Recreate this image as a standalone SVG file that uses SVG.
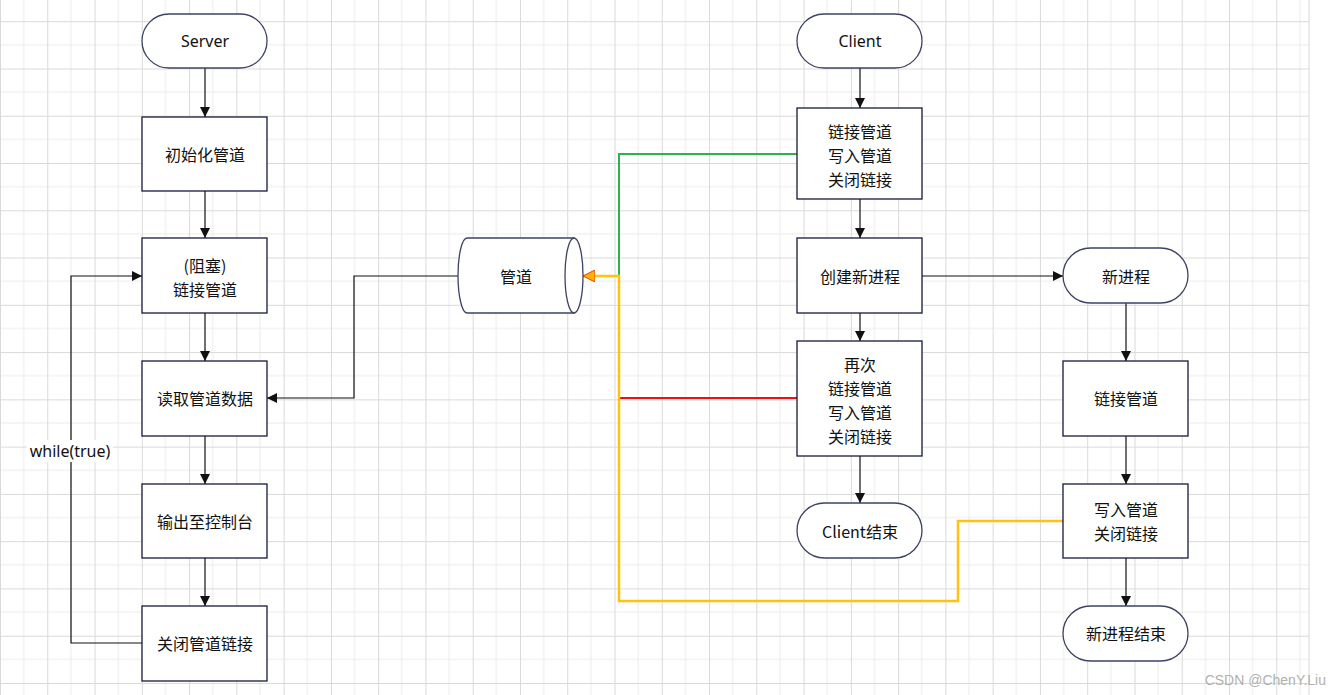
<svg xmlns="http://www.w3.org/2000/svg" width="1343" height="695" viewBox="0 0 1343 695">
<defs>
<pattern id="grid" x="0" y="21.2" width="47.27" height="47.27" patternUnits="userSpaceOnUse">
<path d="M23.635 0V47.27M0 23.635H47.27" stroke="#ececec" stroke-width="1" fill="none"/>
<path d="M0.5 0V47.27M0 0.5H47.27" stroke="#d9d9d9" stroke-width="1" fill="none"/>
</pattern>
<marker id="arr" viewBox="0 0 10 10" refX="10" refY="5" markerWidth="10" markerHeight="10" markerUnits="userSpaceOnUse" orient="auto">
<path d="M0 0L10 5L0 10Z" fill="#111"/>
</marker>
<marker id="arrY" viewBox="0 0 10 10" refX="10" refY="5" markerWidth="12" markerHeight="12" markerUnits="userSpaceOnUse" orient="auto">
<path d="M0 0L10 5L0 10Z" fill="#ffb300" stroke="#e53b00" stroke-width="0.8"/>
</marker>
</defs>
<style>
.node rect,.node path,.node ellipse{fill:#fff;stroke:#15193d;stroke-width:1.3}
.pill rect{stroke:#3e4264}
.t{font-family:"Noto Sans CJK SC","Noto Sans",sans-serif;font-size:16px;fill:#111;text-anchor:middle;dominant-baseline:central}
.l{font-family:"Noto Sans","Liberation Sans",sans-serif}
.e{fill:none;stroke:#111;stroke-width:1.2}
</style>
<rect width="1343" height="695" fill="#fff"/>
<rect x="0" y="0" width="1309" height="695" fill="url(#grid)"/>
<line x1="1309" y1="0" x2="1309" y2="695" stroke="#d9d9d9"/>

<g id="connectors">
<line class="e" x1="205" y1="68" x2="205" y2="117" marker-end="url(#arr)"/>
<line class="e" x1="205" y1="191" x2="205" y2="238" marker-end="url(#arr)"/>
<line class="e" x1="205" y1="313" x2="205" y2="361" marker-end="url(#arr)"/>
<line class="e" x1="205" y1="436" x2="205" y2="484" marker-end="url(#arr)"/>
<line class="e" x1="205" y1="558" x2="205" y2="606" marker-end="url(#arr)"/>
<path class="e" d="M142 643H71V276H142" marker-end="url(#arr)"/>
<path class="e" d="M458 276H354V398H267" marker-end="url(#arr)"/>
<line class="e" x1="860" y1="68" x2="860" y2="108" marker-end="url(#arr)"/>
<line class="e" x1="860" y1="199" x2="860" y2="238" marker-end="url(#arr)"/>
<line class="e" x1="860" y1="313" x2="860" y2="341" marker-end="url(#arr)"/>
<line class="e" x1="860" y1="456" x2="860" y2="503" marker-end="url(#arr)"/>
<line class="e" x1="922" y1="276" x2="1063" y2="276" marker-end="url(#arr)"/>
<line class="e" x1="1126" y1="303" x2="1126" y2="361" marker-end="url(#arr)"/>
<line class="e" x1="1126" y1="436" x2="1126" y2="484" marker-end="url(#arr)"/>
<line class="e" x1="1126" y1="558" x2="1126" y2="606" marker-end="url(#arr)"/>
<path d="M797 154H619V276H600" fill="none" stroke="#2db24f" stroke-width="2"/>
<path d="M797 398H619V276H600" fill="none" stroke="#f01010" stroke-width="2"/>
<path d="M1063 521H958V601H619V276H583" fill="none" stroke="#ffc20e" stroke-width="2.5" marker-end="url(#arrY)"/>
<rect x="27" y="440" width="86" height="22" fill="#fff"/>
<text class="t l" x="70" y="451">while(true)</text>
</g>

<g id="server" class="node pill"><rect x="142" y="14" width="125" height="54" rx="27"/><text class="t l" x="205" y="41">Server</text></g>
<g id="init" class="node"><rect x="142" y="117" width="125" height="74"/><text class="t" x="205" y="154">初始化管道</text></g>
<g id="block" class="node"><rect x="142" y="238" width="125" height="75"/><text class="t" x="205" y="265">(阻塞)</text><text class="t" x="205" y="289">链接管道</text></g>
<g id="read" class="node"><rect x="142" y="361" width="125" height="75"/><text class="t" x="205" y="398">读取管道数据</text></g>
<g id="output" class="node"><rect x="142" y="484" width="125" height="74"/><text class="t" x="205" y="521">输出至控制台</text></g>
<g id="close" class="node"><rect x="142" y="606" width="125" height="75"/><text class="t" x="205" y="643">关闭管道链接</text></g>

<g id="pipe" class="node">
<path d="M467 238H574V313H467A9 37.5 0 0 1 467 238Z" style="stroke:#3e4264"/>
<ellipse cx="574" cy="275.5" rx="9" ry="37.5" style="stroke:#3e4264"/>
<text class="t" x="516" y="276">管道</text>
</g>

<g id="client" class="node pill"><rect x="797" y="14" width="125" height="54" rx="27"/><text class="t l" x="860" y="41">Client</text></g>
<g id="c1" class="node"><rect x="797" y="108" width="125" height="91"/><text class="t" x="860" y="131">链接管道</text><text class="t" x="860" y="155">写入管道</text><text class="t" x="860" y="179">关闭链接</text></g>
<g id="create" class="node"><rect x="797" y="238" width="125" height="75"/><text class="t" x="860" y="276">创建新进程</text></g>
<g id="again" class="node"><rect x="797" y="341" width="125" height="115"/><text class="t" x="860" y="364">再次</text><text class="t" x="860" y="388">链接管道</text><text class="t" x="860" y="412">写入管道</text><text class="t" x="860" y="436">关闭链接</text></g>
<g id="clientEnd" class="node pill"><rect x="797" y="503" width="125" height="55" rx="27.5"/><text class="t" x="860" y="531">Client结束</text></g>

<g id="newproc" class="node pill"><rect x="1063" y="248" width="125" height="55" rx="27.5"/><text class="t" x="1126" y="276">新进程</text></g>
<g id="n1" class="node"><rect x="1063" y="361" width="125" height="75"/><text class="t" x="1126" y="398">链接管道</text></g>
<g id="n2" class="node"><rect x="1063" y="484" width="125" height="74"/><text class="t" x="1126" y="509">写入管道</text><text class="t" x="1126" y="533">关闭链接</text></g>
<g id="newEnd" class="node pill"><rect x="1063" y="606" width="125" height="55" rx="27.5"/><text class="t" x="1126" y="633">新进程结束</text></g>

<text x="1326" y="685" text-anchor="end" style="font-family:'Liberation Sans',sans-serif;font-size:14px;fill:#b0b0b0">CSDN @ChenY.Liu</text>
</svg>
